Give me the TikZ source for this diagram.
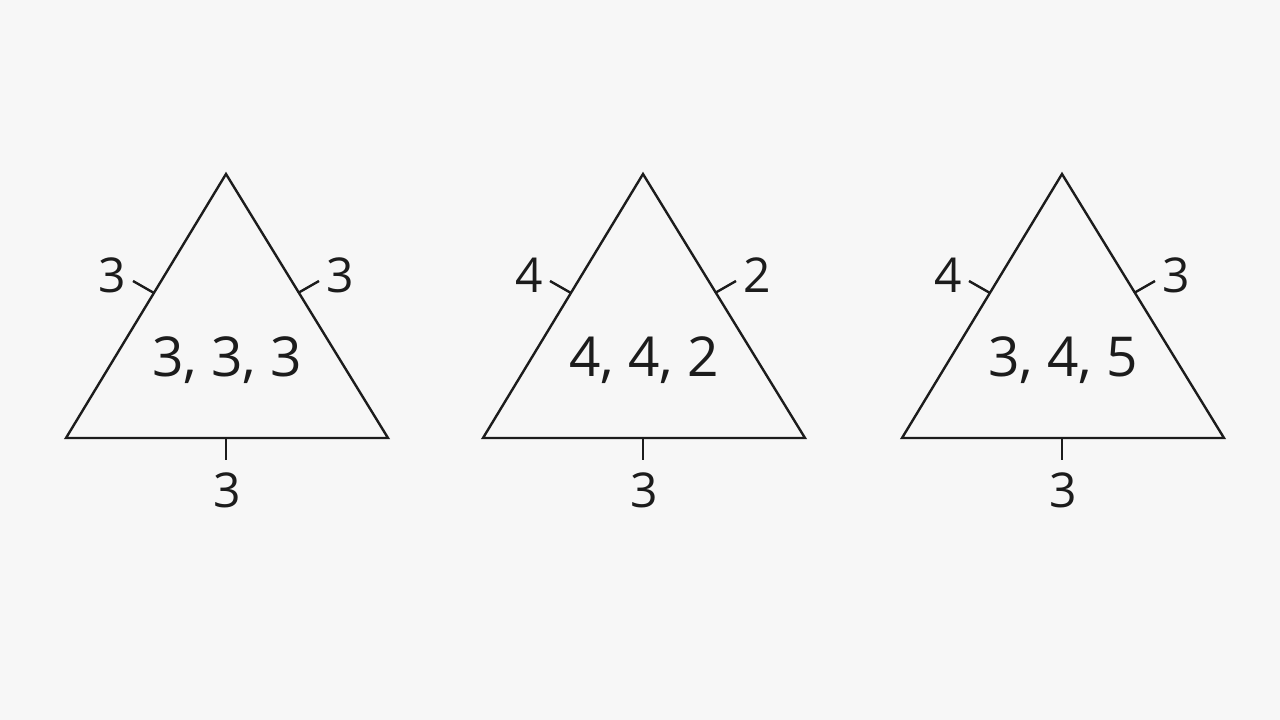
\documentclass[tikz,border=0pt]{standalone}
\usepackage{fontspec}
\setmainfont{Open Sans}
\definecolor{bg}{HTML}{F7F7F7}
\definecolor{ink}{HTML}{1C1C1C}
\begin{document}
\begin{tikzpicture}[x=1pt,y=-1pt,
  edge/.style={draw=ink,line width=2.4pt,line join=miter},
  tick/.style={draw=ink,line width=2.4pt},
  side/.style={text=ink,font=\fontsize{48}{48}\selectfont,inner sep=0pt},
  inner/.style={text=ink,font=\fontsize{55}{55}\selectfont,inner sep=0pt}]
\fill[bg] (0,0) rectangle (1280,720);
\useasboundingbox (0,0) rectangle (1280,720);
\foreach \dx/\n/\l/\r/\b/\c in {0/a/3/3/3/{3, 3, 3},417/b/4/2/3/{4, 4, 2},836/c/4/3/3/{3, 4, 5}}{
  \coordinate (\n top) at (226+\dx,174);
  \coordinate (\n bl) at (66+\dx,438);
  \coordinate (\n br) at (388+\dx,438);
  \draw[edge] (\n top) -- (\n bl) -- (\n br) -- cycle;
  \coordinate (\n lt) at (154+\dx,293);
  \coordinate (\n lo) at (133+\dx,281);
  \coordinate (\n rt) at (298+\dx,293);
  \coordinate (\n ro) at (319+\dx,281);
  \coordinate (\n bt) at (226+\dx,438);
  \coordinate (\n bo) at (226+\dx,460);
  \draw[tick] (\n lt) -- (\n lo);
  \draw[tick] (\n rt) -- (\n ro);
  \draw[tick] (\n bt) -- (\n bo);
  \node[side] (\n L) at (112+\dx,275) {\l};
  \node[side] (\n R) at (340+\dx,275) {\r};
  \node[side] (\n B) at (227+\dx,490) {\b};
  \node[inner] (\n C) at (227+\dx,360) {\c};
}
\end{tikzpicture}
\end{document}
